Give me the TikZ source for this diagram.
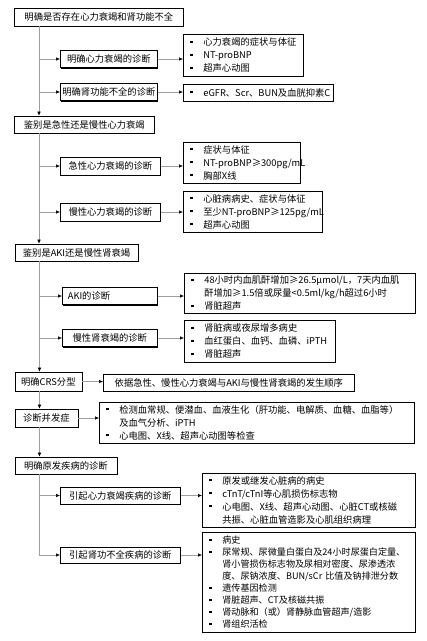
\documentclass[tikz,border=0pt]{standalone}
\usepackage{fontspec}
\setmainfont{Noto Sans CJK SC}
\usetikzlibrary{arrows.meta,positioning,shadows}

\newcommand{\itm}{\hspace*{4pt}\makebox[13pt][l]{\rule[2.6pt]{2.2pt}{2.2pt}}}
\newcommand{\cnt}{\hspace*{17pt}}

\begin{document}
\begin{tikzpicture}[
  x=1pt, y=-1pt,
  font=\fontsize{9.3}{13}\selectfont,
  >=Latex,
  box/.style={
    draw,
    fill=white,
    line width=0.7pt,
    inner sep=0pt,
    anchor=west,
    drop shadow={shadow xshift=1pt, shadow yshift=-1pt, fill=black, opacity=1}
  },
  head/.style={box, minimum height=18pt, align=center},
  diag/.style={box, minimum height=17pt, align=center},
  list/.style={box, align=left, inner xsep=3pt, inner ysep=2pt},
  arrow/.style={-{Latex[length=4pt, width=3.6pt, color=black]}, draw=gray!75, line width=0.6pt}
]
  \useasboundingbox (0,0) rectangle (427,641);

  % step 1
  \node[head, minimum width=169pt] (q1) at (14,17) {明确是否存在心力衰竭和肾功能不全};
  \node[diag, minimum width=97pt] (d1) at (60,59) {明确心力衰竭的诊断};
  \node[list, text width=114pt, minimum height=42pt] (l1) at (183,55) {%
    \itm 心力衰竭的症状与体征\\
    \itm NT-proBNP\\
    \itm 超声心动图};
  \node[diag, minimum width=97pt] (d2) at (60,92) {明确肾功能不全的诊断};
  \node[list, text width=144pt, minimum height=17pt] (l2) at (183,92.5) {%
    \itm eGFR、Scr、BUN及血胱抑素C};

  % step 2
  \node[head, minimum width=140pt, minimum height=17pt] (q2) at (14,124.5) {鉴别是急性还是慢性心力衰竭};
  \node[diag, minimum width=100pt, minimum height=18pt] (d3) at (60,166) {急性心力衰竭的诊断};
  \node[list, text width=111pt, minimum height=41pt] (l3) at (183,162.5) {%
    \itm 症状与体征\\
    \itm \mbox{NT-proBNP≥300pg/mL}\\
    \itm 胸部X线};
  \node[diag, minimum width=100pt, minimum height=18pt] (d4) at (60,212) {慢性心力衰竭的诊断};
  \node[list, text width=133pt, minimum height=41pt] (l4) at (183,211.5) {%
    \itm 心脏病病史、症状与体征\\
    \itm \mbox{至少NT-proBNP≥125pg/mL}\\
    \itm 超声心动图};

  % step 3
  \node[head, minimum width=123.5pt, minimum height=17pt] (q3) at (14.5,252.5) {鉴别是AKI还是慢性肾衰竭};
  \node[diag, minimum width=95pt, text width=84pt, align=left] (d5) at (62,296) {AKI的诊断};
  \node[list, text width=225pt, minimum height=40pt] (l5) at (184,293) {%
    \itm 48小时内血肌酐增加≥26.5μmol/L，7天内血肌\\
    \cnt 酐增加≥1.5倍或尿量<0.5ml/kg/h超过6小时\\
    \itm 肾脏超声};
  \node[diag, minimum width=95pt] (d6) at (62,338) {慢性肾衰竭的诊断};
  \node[list, text width=145pt, minimum height=42pt] (l6) at (184,341) {%
    \itm 肾脏病或夜尿增多病史\\
    \itm 血红蛋白、血钙、血磷、iPTH\\
    \itm 肾脏超声};

  % step 4, 5
  \node[head, minimum width=67pt, minimum height=19pt] (q4) at (14.5,381.5) {明确CRS分型};
  \node[diag, minimum width=251pt] (l7) at (103,382.5) {依据急性、慢性心力衰竭与AKI与慢性肾衰竭的发生顺序};
  \node[head, minimum width=63pt] (q5) at (14.5,418) {诊断并发症};
  \node[list, text width=309pt, minimum height=41pt] (l8) at (99,422.5) {%
    \itm 检测血常规、便潜血、血液生化（肝功能、电解质、血糖、血脂等）\\
    \cnt 及血气分析、iPTH\\
    \itm 心电图、X线、超声心动图等检查};

  % step 6
  \node[head, minimum width=102pt, minimum height=17pt] (q6) at (14.5,465.5) {明确原发疾病的诊断};
  \node[diag, minimum width=120pt] (d7) at (60,495.5) {引起心力衰竭疾病的诊断};
  \node[list, text width=207pt, minimum height=54pt] (l9) at (202,500) {%
    \itm 原发或继发心脏病的病史\\
    \itm cTnT/cTnI等心肌损伤标志物\\
    \itm 心电图、X线、超声心动图、心脏CT或核磁\\
    \cnt 共振、心脏血管造影及心肌组织病理};
  \node[diag, minimum width=120pt, minimum height=16pt] (d8) at (60,555) {引起肾功不全疾病的诊断};
  \node[list, text width=207pt, minimum height=100pt, font=\fontsize{9.1}{12}\selectfont] (l10) at (202,582) {%
    \itm 病史\\
    \itm 尿常规、尿微量白蛋白及24小时尿蛋白定量、\\
    \cnt 肾小管损伤标志物及尿相对密度、尿渗透浓\\
    \cnt 度、尿钠浓度、BUN/sCr 比值及钠排泄分数\\
    \itm 遗传基因检测\\
    \itm 肾脏超声、CT及核磁共振\\
    \itm 肾动脉和（或）肾静脉血管超声/造影\\
    \itm 肾组织活检};

  % trunk
  \coordinate (t1) at ([xshift=25pt]q1.south west);
  \coordinate (t2) at ([xshift=25pt]q2.south west);
  \coordinate (t3) at ([xshift=25pt]q3.south west);
  \coordinate (t4) at ([xshift=25pt]q4.south west);
  \coordinate (t5) at ([xshift=25pt]q5.south west);
  \coordinate (t6) at ([xshift=25pt]q6.south west);

  \draw[arrow] (t1) -- (t1 |- q2.north);
  \draw[arrow] (t1 |- d1.west) -- (d1.west);
  \draw[arrow] (t1 |- d2.west) -- (d2.west);
  \draw[arrow] (t2) -- (t2 |- q3.north);
  \draw[arrow] (t2 |- d3.west) -- (d3.west);
  \draw[arrow] (t2 |- d4.west) -- (d4.west);
  \draw[arrow] (t3) -- (t3 |- q4.north);
  \draw[arrow] (t3 |- d5.west) -- (d5.west);
  \draw[arrow] (t3 |- d6.west) -- (d6.west);
  \draw[arrow] (t4) -- (t4 |- q5.north);
  \draw[arrow] (t5) -- (t5 |- q6.north);
  \draw[arrow] (t6 |- d7.west) -- (d7.west);
  \draw[arrow] (t6) |- (d8.west);

  % to the lists
  \draw[arrow] (d1.east) -- (d1.east -| l1.west);
  \draw[arrow] (d2.east) -- (d2.east -| l2.west);
  \draw[arrow] (d3.east) -- (d3.east -| l3.west);
  \draw[arrow] (d4.east) -- (d4.east -| l4.west);
  \draw[arrow] (d5.east) -- (d5.east -| l5.west);
  \draw[arrow] (d6.east) -- (d6.east -| l6.west);
  \draw[arrow] (q4.east) -- (q4.east -| l7.west);
  \draw[arrow] (q5.east) -- (q5.east -| l8.west);
  \draw[arrow] (d7.east) -- (d7.east -| l9.west);
  \draw[arrow] (d8.east) -- (d8.east -| l10.west);
\end{tikzpicture}
\end{document}
